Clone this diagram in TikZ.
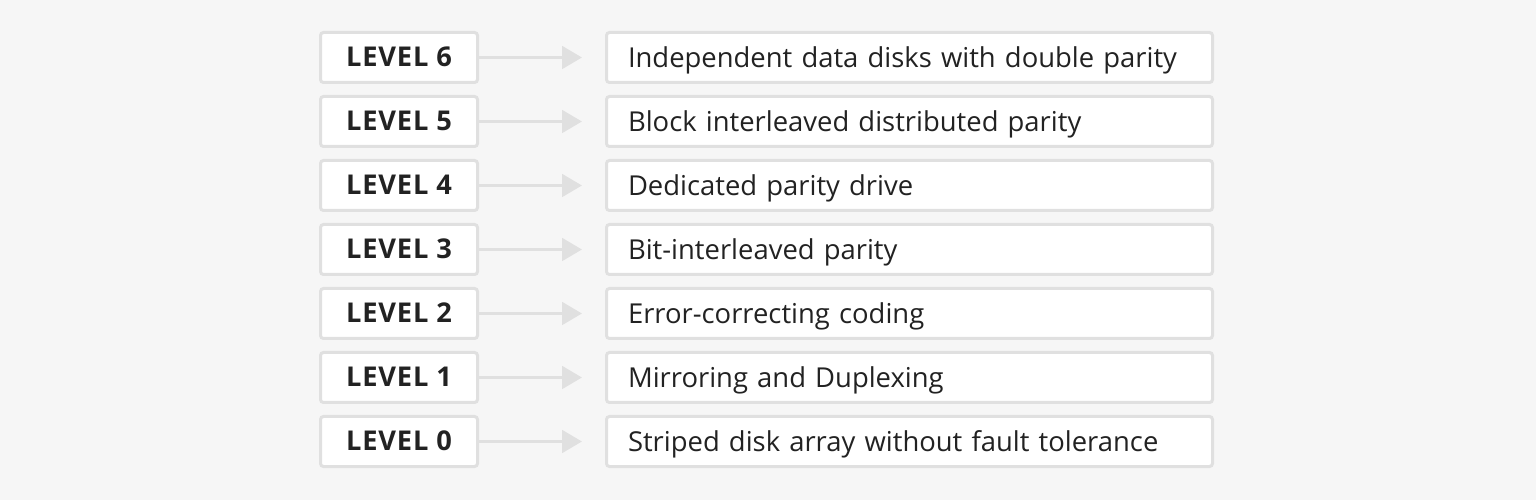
\documentclass[tikz,border=0pt]{standalone}
\usepackage{fontspec}
\setmainfont{Open Sans}
\usetikzlibrary{arrows.meta}
\definecolor{bg}{HTML}{F6F6F6}
\definecolor{edge}{HTML}{E0E0E0}
\definecolor{ink}{HTML}{222222}
\begin{document}
\begin{tikzpicture}[
  lvl/.style={draw=edge, fill=white, line width=0.06cm, rounded corners=0.06cm,
    minimum width=3.14cm, minimum height=1cm, inner sep=0pt, text=ink,
    text height=0.38cm, text depth=0cm,
    font=\fontsize{15.5}{18}\selectfont\bfseries\addfontfeature{LetterSpace=3}},
  desc/.style={draw=edge, fill=white, line width=0.06cm, rounded corners=0.06cm,
    text width=11.26cm, inner xsep=0.43cm, inner ysep=0pt, minimum height=1cm,
    text height=0.41cm, text depth=0cm,
    align=left, text=ink, font=\fontsize{15.6}{19}\selectfont},
  link/.style={draw=edge, line width=0.07cm, shorten >=0.46cm,
    -{Triangle[width=0.45cm,length=0.4cm]}}]
\fill[bg] (0,0) rectangle (30.72,-10);
\useasboundingbox (0,0) rectangle (30.72,-10);
\node[lvl] (l6) at (7.98,-1.15) {LEVEL 6};
\node[lvl] (l5) at (7.98,-2.43) {LEVEL 5};
\node[lvl] (l4) at (7.98,-3.71) {LEVEL 4};
\node[lvl] (l3) at (7.98,-4.99) {LEVEL 3};
\node[lvl] (l2) at (7.98,-6.27) {LEVEL 2};
\node[lvl] (l1) at (7.98,-7.55) {LEVEL 1};
\node[lvl] (l0) at (7.98,-8.83) {LEVEL 0};
\node[desc] (d6) at (18.19,-1.15) {Independent data disks with double parity};
\node[desc] (d5) at (18.19,-2.43) {Block interleaved distributed parity};
\node[desc] (d4) at (18.19,-3.71) {Dedicated parity drive};
\node[desc] (d3) at (18.19,-4.99) {Bit-interleaved parity};
\node[desc] (d2) at (18.19,-6.27) {Error-correcting coding};
\node[desc] (d1) at (18.19,-7.55) {Mirroring and Duplexing};
\node[desc] (d0) at (18.19,-8.83) {Striped disk array without fault tolerance};
\draw[link] (l6) -- (d6);
\draw[link] (l5) -- (d5);
\draw[link] (l4) -- (d4);
\draw[link] (l3) -- (d3);
\draw[link] (l2) -- (d2);
\draw[link] (l1) -- (d1);
\draw[link] (l0) -- (d0);
\end{tikzpicture}
\end{document}
